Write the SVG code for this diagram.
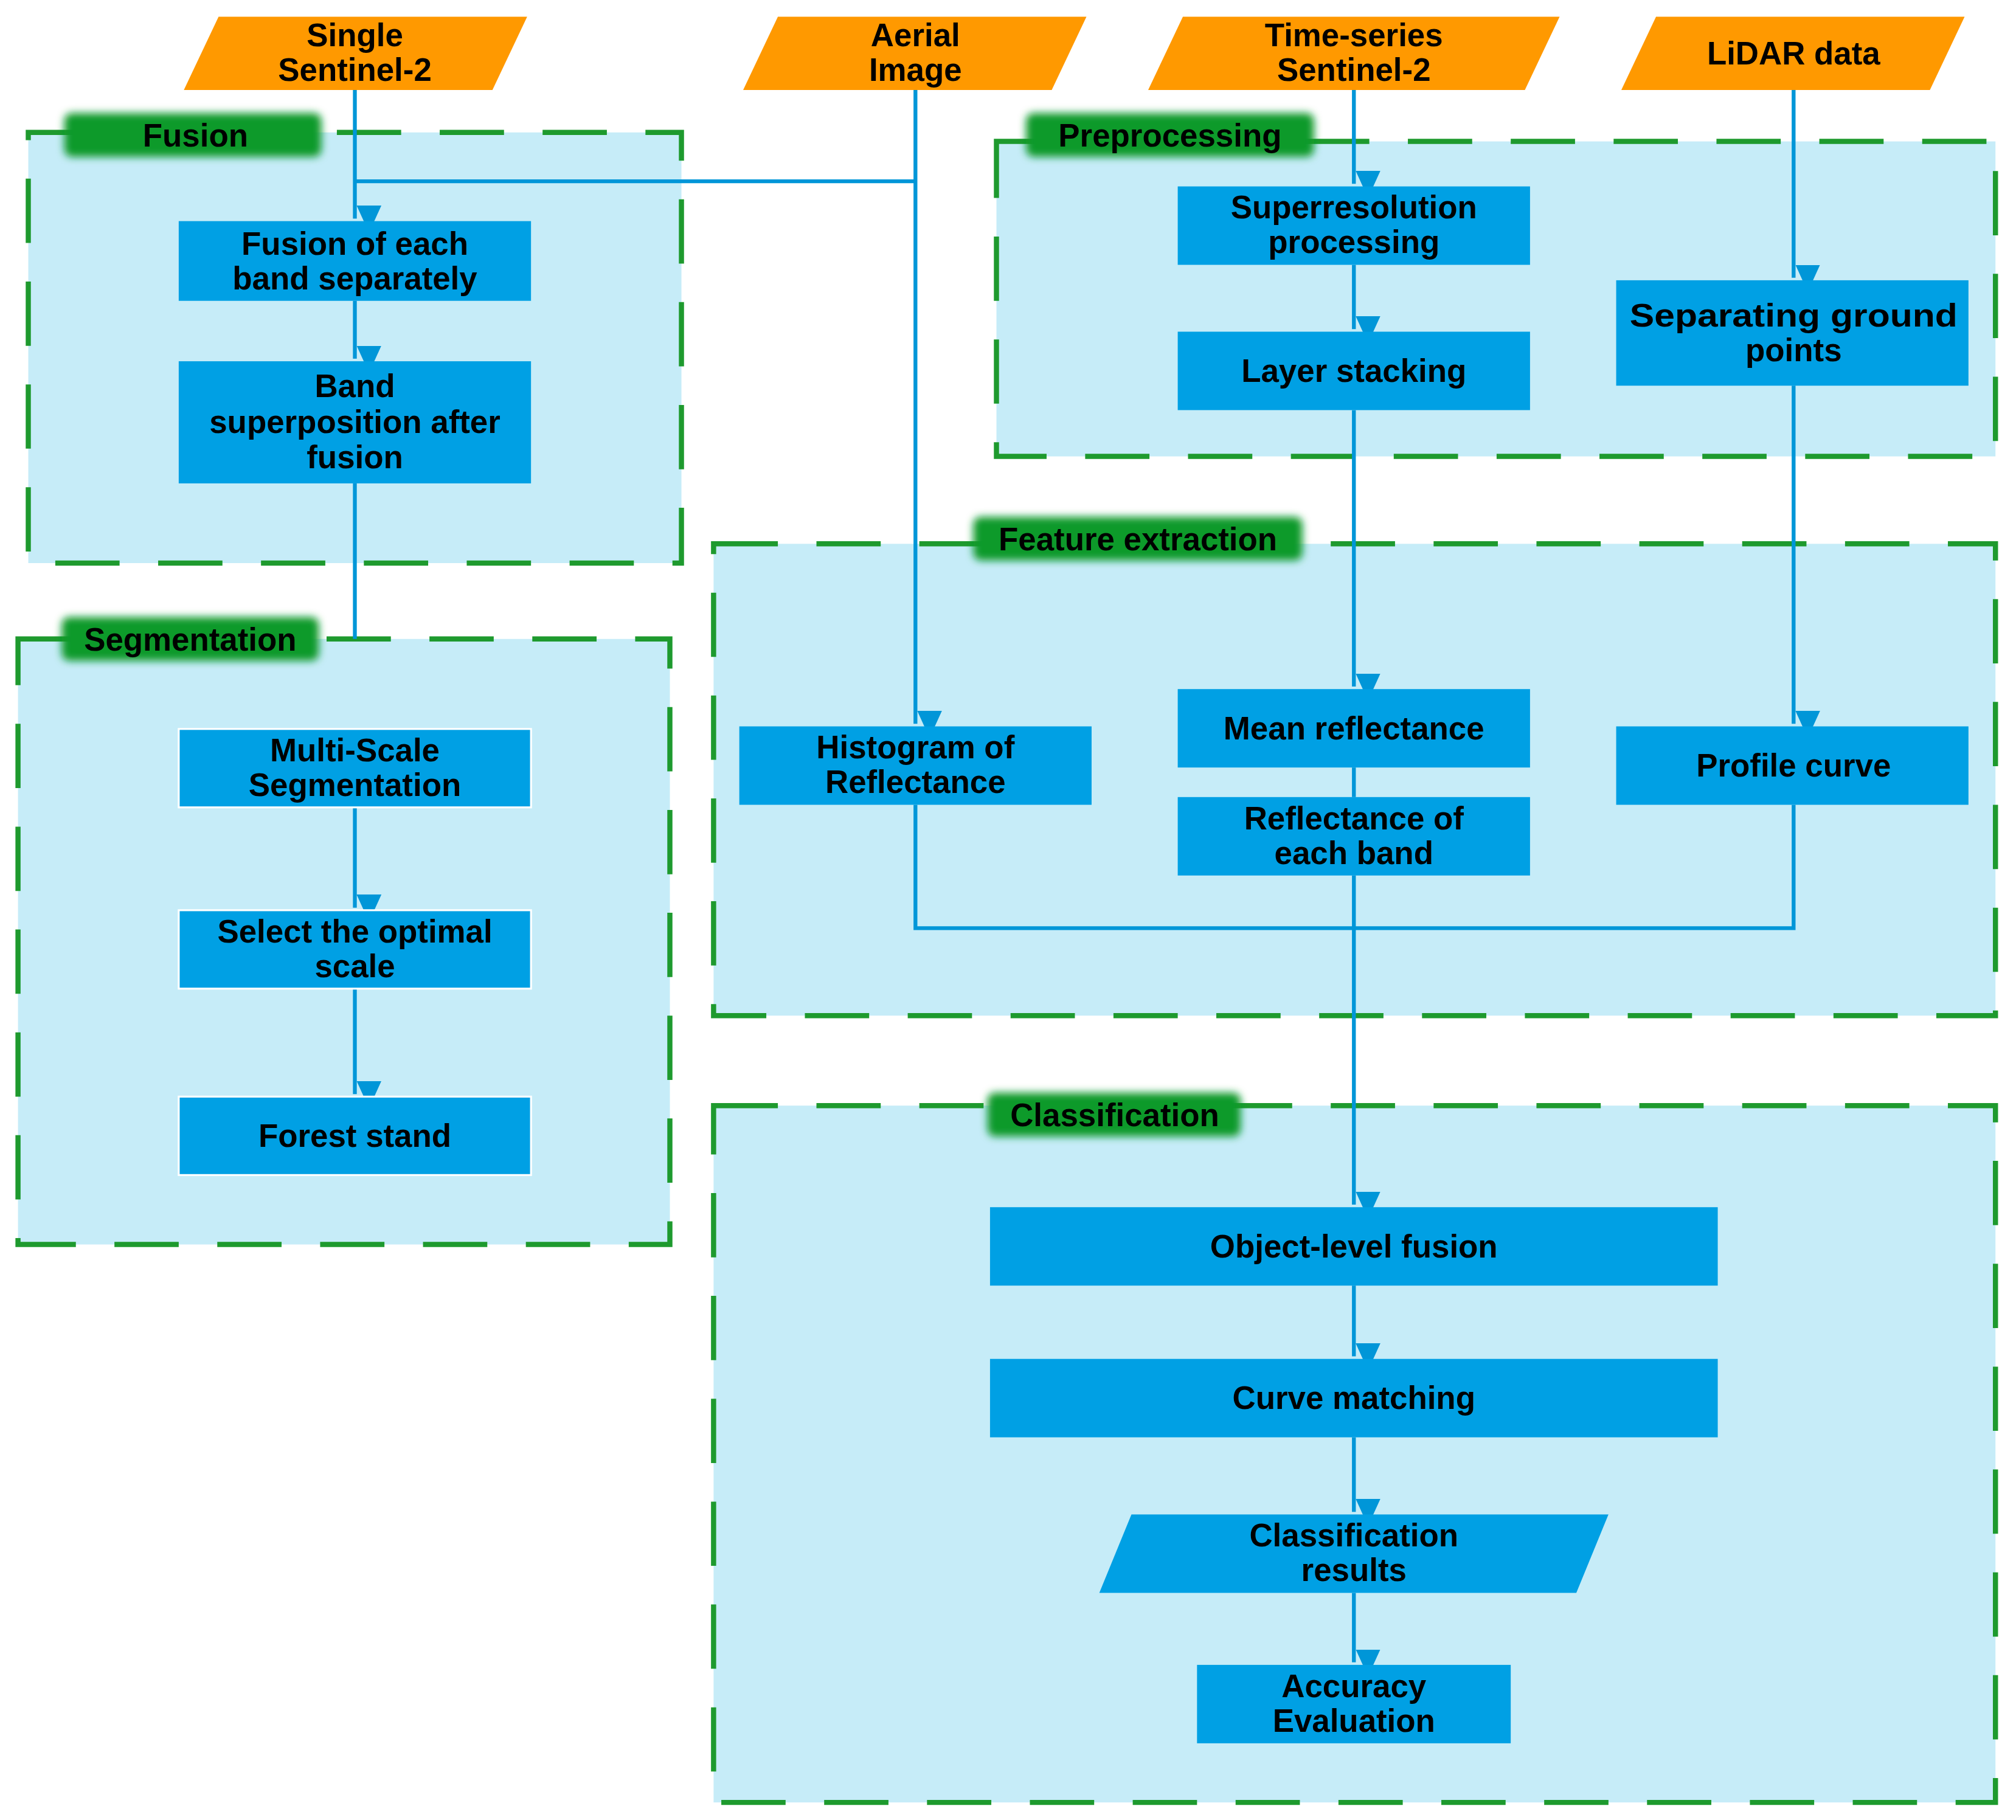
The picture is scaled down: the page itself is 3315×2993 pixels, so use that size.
<svg xmlns="http://www.w3.org/2000/svg" width="3315" height="2993" viewBox="0 0 3315 2993">
<style>
.grp{fill:#C6ECF8;stroke:#1E9A2E;stroke-width:4;stroke-dasharray:50 30}
.box{fill:#00A0E4}
.wb{stroke:#fff;stroke-width:1.5}
.inp{fill:#FF9900}
.lbl{fill:#0A9A2A;filter:url(#glow)}
text{font-family:"Liberation Sans",Arial,sans-serif;font-weight:bold;font-size:25px;fill:#000;text-anchor:middle}
.c{fill:none;stroke:#0096D8;stroke-width:3}
.a{marker-end:url(#ah)}
</style>
<defs>
<filter id="glow" x="-20%" y="-50%" width="140%" height="200%"><feGaussianBlur stdDeviation="3"/></filter>
<marker id="ah" markerUnits="userSpaceOnUse" markerWidth="20" markerHeight="22" refX="10" refY="22" orient="auto-start-reverse" viewBox="0 0 20 22"><path d="M0,0 L20,0 L10,22 Z" fill="#0096D8" transform="rotate(-90 10 11) translate(0 0)"/></marker>
</defs>
<rect width="3315" height="2993" fill="#fff"/>
<g transform="scale(2.1142)">
<g id="grp-fusion"><rect class="grp" x="22" y="103" width="508" height="335"/><rect class="lbl" x="50" y="88" width="200" height="34" rx="6"/><text x="152" y="114">Fusion</text></g>
<g id="grp-pre"><rect class="grp" x="775" y="110" width="777" height="245"/><rect class="lbl" x="798" y="88" width="224" height="34" rx="6"/><text x="910" y="114">Preprocessing</text></g>
<g id="grp-seg"><rect class="grp" x="14" y="497" width="507" height="471"/><rect class="lbl" x="48" y="480" width="200" height="34" rx="6"/><text x="148" y="506">Segmentation</text></g>
<g id="grp-feat"><rect class="grp" x="555" y="423" width="997" height="367"/><rect class="lbl" x="757" y="402" width="256" height="34" rx="6"/><text x="885" y="428">Feature extraction</text></g>
<g id="grp-cls"><rect class="grp" x="555" y="860" width="997" height="542"/><rect class="lbl" x="768" y="850" width="197" height="34" rx="6"/><text x="867" y="876">Classification</text></g>

<g id="connectors">
<path class="c a" d="M276,70 V170"/>
<path class="c" d="M276,141 H712"/>
<path class="c a" d="M712,70 V563"/>
<path class="c a" d="M276,234 V279"/>
<path class="c" d="M276,376 V497"/>
<path class="c a" d="M276,628 V706"/>
<path class="c a" d="M276,769 V851"/>
<path class="c a" d="M1053,70 V143"/>
<path class="c a" d="M1053,206 V256"/>
<path class="c a" d="M1053,319 V534"/>
<path class="c a" d="M1395,70 V216"/>
<path class="c a" d="M1395,300 V563"/>
<path class="c" d="M1053,597 V620"/>
<path class="c a" d="M1053,681 V937"/>
<path class="c" d="M712,626 V722 H1395 V626"/>
<path class="c a" d="M1053,1000 V1055"/>
<path class="c a" d="M1053,1118 V1176"/>
<path class="c a" d="M1053,1239 V1293"/>
</g>

<g id="in-single"><path class="inp" d="M143,70 L170,13 H410 L383,70 Z"/><text x="276" y="36">Single</text><text x="276" y="63">Sentinel-2</text></g>
<g id="in-aerial"><path class="inp" d="M578,70 L605,13 H845 L818,70 Z"/><text x="712" y="36">Aerial</text><text x="712" y="63">Image</text></g>
<g id="in-ts"><path class="inp" d="M893,70 L920,13 H1213 L1186,70 Z"/><text x="1053" y="36">Time-series</text><text x="1053" y="63">Sentinel-2</text></g>
<g id="in-lidar"><path class="inp" d="M1261,70 L1288,13 H1528 L1501,70 Z"/><text x="1395" y="50">LiDAR data</text></g>

<g id="n-fusion-each"><rect class="box" x="139" y="172" width="274" height="62"/><text x="276" y="198">Fusion of each</text><text x="276" y="225">band separately</text></g>
<g id="n-band-sup"><rect class="box" x="139" y="281" width="274" height="95"/><text x="276" y="309">Band</text><text x="276" y="337">superposition after</text><text x="276" y="364">fusion</text></g>
<g id="n-mss"><rect class="box wb" x="139" y="567" width="274" height="61"/><text x="276" y="592">Multi-Scale</text><text x="276" y="619">Segmentation</text></g>
<g id="n-select"><rect class="box wb" x="139" y="708" width="274" height="61"/><text x="276" y="733">Select the optimal</text><text x="276" y="760">scale</text></g>
<g id="n-forest"><rect class="box wb" x="139" y="853" width="274" height="61"/><text x="276" y="892">Forest stand</text></g>
<g id="n-superres"><rect class="box" x="916" y="145" width="274" height="61"/><text x="1053" y="170">Superresolution</text><text x="1053" y="197">processing</text></g>
<g id="n-layer"><rect class="box" x="916" y="258" width="274" height="61"/><text x="1053" y="297">Layer stacking</text></g>
<g id="n-sep"><rect class="box" x="1257" y="218" width="274" height="82"/><text x="1395" y="254" textLength="255" lengthAdjust="spacingAndGlyphs">Separating ground</text><text x="1395" y="281">points</text></g>
<g id="n-hist"><rect class="box" x="575" y="565" width="274" height="61"/><text x="712" y="590">Histogram of</text><text x="712" y="617">Reflectance</text></g>
<g id="n-mean"><rect class="box" x="916" y="536" width="274" height="61"/><text x="1053" y="575">Mean reflectance</text></g>
<g id="n-refl"><rect class="box" x="916" y="620" width="274" height="61"/><text x="1053" y="645">Reflectance of</text><text x="1053" y="672">each band</text></g>
<g id="n-profile"><rect class="box" x="1257" y="565" width="274" height="61"/><text x="1395" y="604">Profile curve</text></g>
<g id="n-obj"><rect class="box" x="770" y="939" width="566" height="61"/><text x="1053" y="978">Object-level fusion</text></g>
<g id="n-curve"><rect class="box" x="770" y="1057" width="566" height="61"/><text x="1053" y="1096">Curve matching</text></g>
<g id="n-results"><path class="box" d="M855,1239 L880,1178 H1251 L1226,1239 Z"/><text x="1053" y="1203">Classification</text><text x="1053" y="1230">results</text></g>
<g id="n-acc"><rect class="box" x="931" y="1295" width="244" height="61"/><text x="1053" y="1320">Accuracy</text><text x="1053" y="1347">Evaluation</text></g>
</g>
</svg>
